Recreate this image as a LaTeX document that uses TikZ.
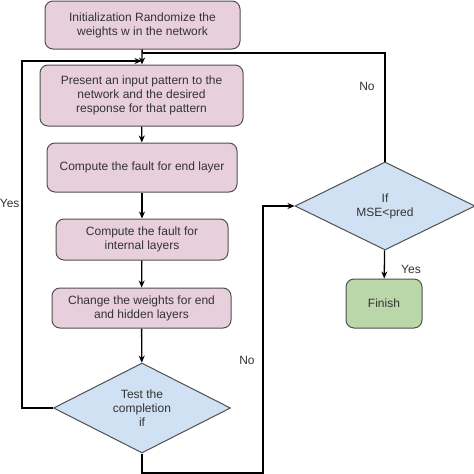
\documentclass[tikz,border=0pt]{standalone}
\usepackage{fontspec}
\setmainfont{Liberation Sans}
\usetikzlibrary{shapes.geometric,arrows.meta}
\definecolor{pinkfill}{HTML}{E8CFDC}
\definecolor{bluefill}{HTML}{D0E1F4}
\definecolor{greenfill}{HTML}{B9D7A9}
\definecolor{edgegray}{HTML}{505050}
\definecolor{txtgray}{HTML}{333333}
\begin{document}
\begin{tikzpicture}[x=1pt,y=-1pt,
  font=\fontsize{12}{14}\selectfont,
  stepbox/.style={draw=edgegray,line width=1pt,rounded corners=8pt,fill=pinkfill,text=txtgray,align=center,inner sep=0pt},
  decide/.style={diamond,draw=edgegray,line width=1pt,fill=bluefill,text=txtgray,align=center,inner sep=0pt,aspect=2},
  arr/.style={line width=1.3pt,-{Stealth[length=7pt,width=6pt]}},
  line/.style={line width=1.3pt},
  lbl/.style={text=txtgray}]
  \useasboundingbox (0,0) rectangle (474,474);
  \node[stepbox,minimum width=195pt,minimum height=48pt] (init) at (142.5,25) {Initialization Randomize the\\weights w in the network};
  \node[stepbox,minimum width=203pt,minimum height=61pt] (present) at (141.5,95.5) {Present an input pattern to the\\network and the desired\\response for that pattern};
  \node[stepbox,minimum width=190pt,minimum height=49pt] (endlayer) at (142,167.5) {Compute the fault for end layer};
  \node[stepbox,minimum width=172pt,minimum height=41pt] (internal) at (142,239.5) {Compute the fault for\\internal layers};
  \node[stepbox,minimum width=179pt,minimum height=40pt] (change) at (141.5,308) {Change the weights for end\\and hidden layers};
  \node[decide,minimum width=177pt,minimum height=90pt] (test) at (142,408) {Test the\\completion\\if};
  \node[decide,minimum width=180pt,minimum height=88pt] (mse) at (385,206) {If\\MSE<pred};
  \node[stepbox,fill=greenfill,minimum width=76pt,minimum height=49pt] (finish) at (384,303.5) {Finish};
  % turning points
  \coordinate (loopL) at (22,61);
  \coordinate (jointop) at (142.5,53);
  \coordinate (noCorner) at (263,473);
  \draw[arr] (init) -- (present);
  \draw[arr] (present) -- (endlayer);
  \draw[arr] (endlayer) -- (internal);
  \draw[arr] (internal) -- (change);
  \draw[arr] (change) -- (test);
  \draw[arr] (test.west) -| (loopL) -- (loopL -| present.north);
  \draw[line] (mse.north) |- (jointop);
  \draw[arr] (test.south) |- (noCorner) |- (mse.west);
  \draw[arr] (mse) -- (finish);
  \node[lbl,anchor=east] (yesL) at (23,203) {Yes};
  \node[lbl] (noL) at (247,360) {No};
  \node[lbl] (noR) at (367,86) {No};
  \node[lbl] (yesR) at (411,269) {Yes};
\end{tikzpicture}
\end{document}
